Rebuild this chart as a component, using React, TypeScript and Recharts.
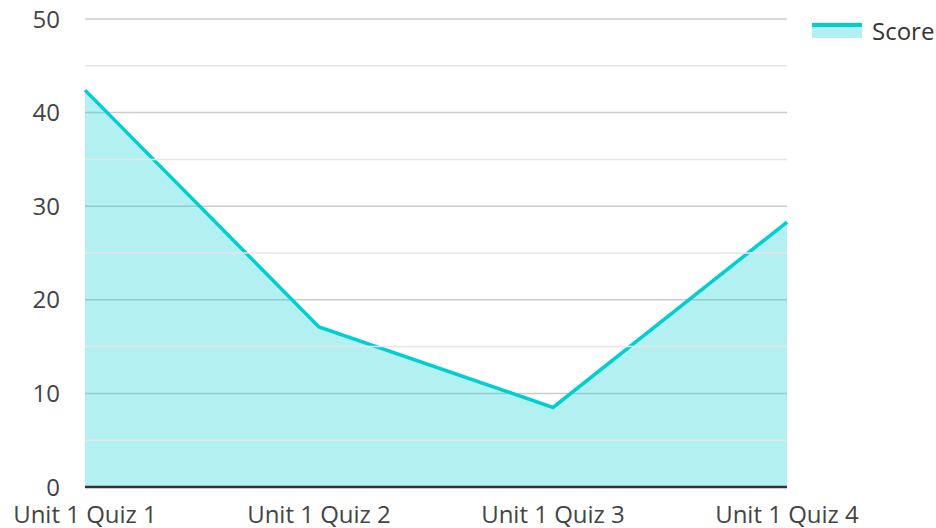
import React from "react";
import { AreaChart, Area, XAxis, YAxis, CartesianGrid, ReferenceLine } from "recharts";

const categories = ["Unit 1 Quiz 1", "Unit 1 Quiz 2", "Unit 1 Quiz 3", "Unit 1 Quiz 4"];
const scores = [42.4, 17.1, 8.5, 28.3];
const majorTicks = [0, 10, 20, 30, 40, 50];
const minorTicks = [5, 15, 25, 35, 45];
const seriesName = "Score";

const data = categories.map((c, i) => ({ name: c, score: scores[i] }));

const COLOR = "#00CED1";
const FONT = "'Open Sans', 'Noto Sans', sans-serif";
const FS = 24;

const LegendBox = () => (
  <div
    style={{
      position: "absolute",
      left: 812,
      top: 17,
      display: "flex",
      alignItems: "center",
      fontFamily: FONT,
      fontSize: FS,
      color: "#333",
      lineHeight: "28px",
    }}
  >
    <svg width={50} height={16} style={{ marginRight: 10 }}>
      <rect x={0} y={2} width={50} height={13} fill={COLOR} fillOpacity={0.3} />
      <line x1={0} x2={50} y1={2} y2={2} stroke={COLOR} strokeWidth={4} />
    </svg>
    <span>{seriesName}</span>
  </div>
);

export default function App() {
  return (
    <div style={{ position: "absolute", left: 0, top: 0, width: 936, height: 528, background: "#fff" }}>
      <AreaChart width={936} height={528} data={data} margin={{ top: 19, right: 149, left: 0, bottom: 0 }}>
        <CartesianGrid vertical={false} stroke="#cccccc" strokeWidth={1.5} />
        {minorTicks.map((t) => (
          <ReferenceLine key={t} y={t} stroke="#e6e6e6" strokeWidth={1.5} />
        ))}
        <XAxis
          dataKey="name"
          height={41}
          tickLine={false}
          tickSize={0}
          tickMargin={19}
          axisLine={{ stroke: "#333", strokeWidth: 2.5 }}
          tick={{ fill: "#444", fontSize: FS, fontFamily: FONT }}
          interval={0}
        />
        <YAxis
          width={85}
          domain={[0, 50]}
          ticks={majorTicks}
          axisLine={false}
          tickLine={false}
          tickSize={0}
          tickMargin={25}
          tick={{ fill: "#444", fontSize: FS, fontFamily: FONT }}
        />
        <Area
          type="linear"
          dataKey="score"
          name={seriesName}
          stroke={COLOR}
          strokeWidth={3.5}
          fill={COLOR}
          fillOpacity={0.3}
          dot={false}
          activeDot={false}
          isAnimationActive={false}
        />
      </AreaChart>
      <LegendBox />
    </div>
  );
}
